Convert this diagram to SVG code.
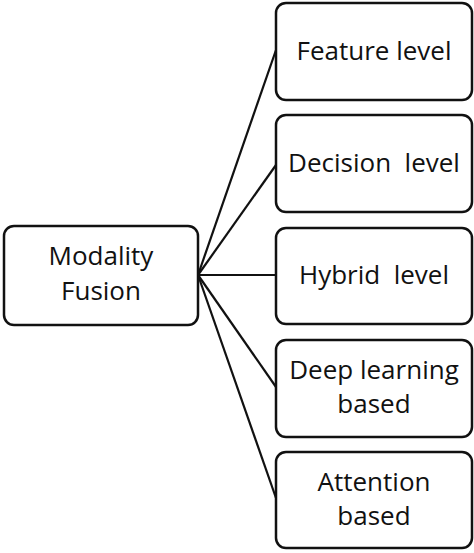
<svg xmlns="http://www.w3.org/2000/svg" width="474" height="553" viewBox="0 0 474 553">
<style>
.box{fill:#fff;stroke:#111;stroke-width:2.5}
.t{font-family:"Open Sans","Liberation Sans",sans-serif;font-size:26px;fill:#111;text-anchor:middle}
.c{stroke:#111;stroke-width:2.2;fill:none}
</style>
<rect width="474" height="553" fill="#fff"/>
<g id="connectors">
<line class="c" x1="198" y1="275" x2="276" y2="50"/>
<line class="c" x1="198" y1="275" x2="276" y2="165"/>
<line class="c" x1="198" y1="275" x2="276" y2="275"/>
<line class="c" x1="198" y1="275" x2="276" y2="387"/>
<line class="c" x1="198" y1="275" x2="276" y2="498"/>
</g>
<g id="modality">
<rect class="box" x="4" y="226" width="194" height="99" rx="10"/>
<text class="t" x="101" y="265">Modality</text>
<text class="t" x="101" y="300">Fusion</text>
</g>
<g id="feature">
<rect class="box" x="276" y="3" width="196" height="97" rx="10"/>
<text class="t" x="374" y="60">Feature level</text>
</g>
<g id="decision">
<rect class="box" x="276" y="115" width="196" height="97" rx="10"/>
<text class="t" x="374" y="172" xml:space="preserve">Decision  level</text>
</g>
<g id="hybrid">
<rect class="box" x="276" y="228" width="196" height="96" rx="10"/>
<text class="t" x="374" y="284" xml:space="preserve">Hybrid  level</text>
</g>
<g id="deep">
<rect class="box" x="276" y="340" width="196" height="97" rx="10"/>
<text class="t" x="374" y="379">Deep learning</text>
<text class="t" x="374" y="413">based</text>
</g>
<g id="attention">
<rect class="box" x="276" y="452" width="196" height="96" rx="10"/>
<text class="t" x="374" y="491">Attention</text>
<text class="t" x="374" y="525">based</text>
</g>
</svg>
